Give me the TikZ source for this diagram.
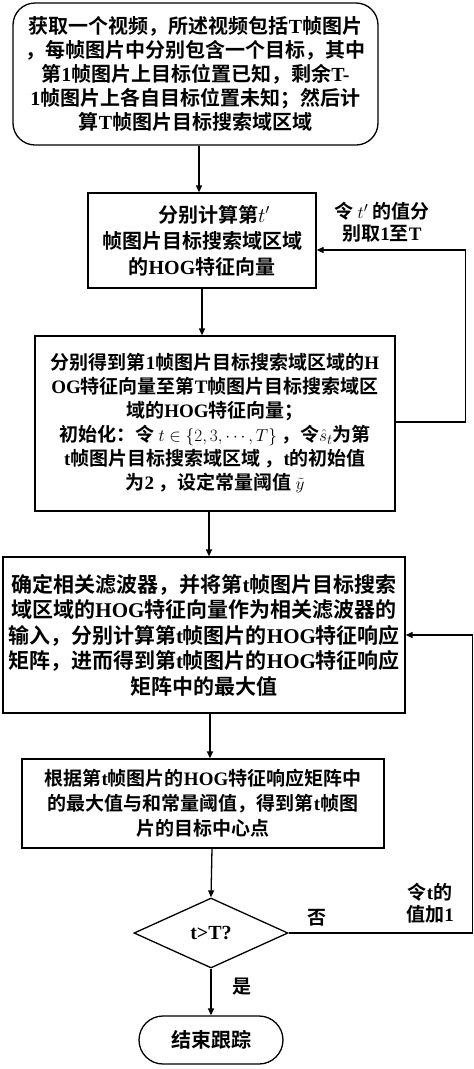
\documentclass[tikz,border=0pt]{standalone}
\usepackage{fontspec}
\setmainfont{Noto Sans CJK SC}[BoldFont=* Bold]
\newfontfamily\lat{Liberation Serif}
\usetikzlibrary{shapes.geometric,arrows.meta}
\newcommand\la[1]{{\lat\bfseries #1}}
\begin{document}
\begin{tikzpicture}[x=1pt,y=-1pt,
  box/.style={draw,line width=1.3pt,align=center,inner sep=0pt,font=\bfseries},
  arr/.style={line width=1.3pt,-{Triangle[length=7pt,width=6pt]}},
  loop/.style={line width=1.3pt},
  lbl/.style={align=center,inner sep=0pt,font=\fontsize{19}{22}\selectfont\bfseries}]
\useasboundingbox (0,0) rectangle (474,1069);
\node[box,rounded corners=22pt,minimum width=365pt,minimum height=142pt,font=\fontsize{20}{24}\selectfont\bfseries] (b1) at (195.5,74)
 {获取一个视频，所述视频包括\la{T}帧图片\\
  ，每帧图片中分别包含一个目标，其中\\
  第\la{1}帧图片上目标位置已知，剩余\la{T-}\\
  \la{1}帧图片上各自目标位置未知；然后计\\
  算\la{T}帧图片目标搜索域区域};
\node[box,minimum width=228pt,minimum height=95pt,font=\fontsize{20}{26}\selectfont\bfseries] (b2) at (202,240.5)
 {\hspace*{1.2em}分别计算第$t'$\\
  帧图片目标搜索域区域\\
  的\la{HOG}特征向量};
\node[box,minimum width=360pt,minimum height=175pt,font=\fontsize{19}{24}\selectfont\bfseries] (b3) at (215,423.5)
 {分别得到第\la{1}帧图片目标搜索域区域的\la{H}\\
  \la{OG}特征向量至第\la{T}帧图片目标搜索域区\\
  域的\la{HOG}特征向量；\\
  初始化：令 $t\in\{2,3,\cdots,T\}$ ，令$\hat{s}_t$为第\\
  \la{t}帧图片目标搜索域区域 ，\la{t}的初始值\\
  为\la{2} ，设定常量阈值 $\tilde{y}$};
\node[box,minimum width=402pt,minimum height=156pt,font=\fontsize{21}{25.5}\selectfont\bfseries] (b4) at (204,635)
 {确定相关滤波器，并将第\la{t}帧图片目标搜索\\
  域区域的\la{HOG}特征向量作为相关滤波器的\\
  输入，分别计算第\la{t}帧图片的\la{HOG}特征响应\\
  矩阵，进而得到第\la{t}帧图片的\la{HOG}特征响应\\
  矩阵中的最大值};
\node[box,minimum width=362pt,minimum height=89pt,font=\fontsize{19}{25}\selectfont\bfseries] (b5) at (203,803.5)
 {根据第\la{t}帧图片的\la{HOG}特征响应矩阵中\\
  的最大值与和常量阈值，得到第\la{t}帧图\\
  片的目标中心点};
\node[box,diamond,aspect=2.2,minimum width=154pt,minimum height=70pt,font=\fontsize{20}{24}\selectfont\lat\bfseries] (d) at (211,933) {t>T?};
\node[box,rounded corners=24pt,minimum width=144pt,minimum height=48pt,font=\fontsize{20}{24}\selectfont\bfseries] (e) at (211,1040) {结束跟踪};
\draw[arr] ([xshift=3.5pt]b1.south) -- ([xshift=3.5pt]b1.south |- b2.north);
\draw[arr] (b2.south) -- (b2.south |- b3.north);
\draw[arr] ([xshift=-6pt]b3.south) -- ([xshift=-6pt]b3.south |- b4.north);
\draw[arr] ([xshift=6pt]b4.south) -- ([xshift=6pt]b4.south |- b5.north);
\draw[arr] ([xshift=9pt]b5.south) -- (d.north);
\draw[arr] (d.south) -- (e.north);
\draw[arr] ([yshift=1.5pt]b3.east) -- ++(70,0) |- ([yshift=-9.5pt]b2.east);
\draw[arr] (d.east) -- ++(184,0) |- (b4.east);
\node[lbl] (l1) at (382,222) {令 $t'$ 的值分\\别取\la{1}至\la{T}};
\node[lbl] (l2) at (317,918) {否};
\node[lbl] (l3) at (430,903) {令\la{t}的\\值加\la{1}};
\node[lbl] (l4) at (242,987) {是};
\end{tikzpicture}
\end{document}
